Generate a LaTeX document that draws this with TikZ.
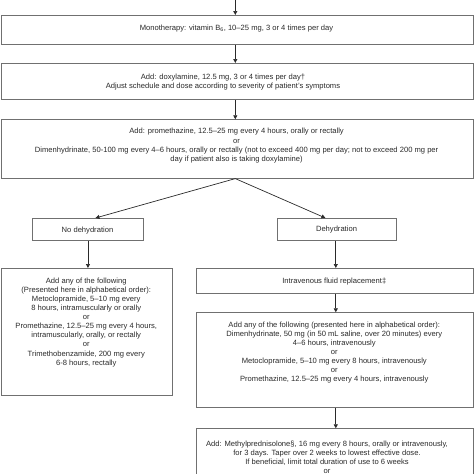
\documentclass[tikz,border=0pt]{standalone}
\usepackage{fontspec}
\setmainfont{Liberation Sans}
\usetikzlibrary{arrows.meta}
\definecolor{boxline}{HTML}{707070}
\definecolor{txtc}{HTML}{2A2A2A}
\definecolor{arrc}{HTML}{2A2A2A}
\begin{document}
\begin{tikzpicture}[x=1pt,y=-1pt,
  box/.style={draw=boxline, line width=0.9pt, inner sep=0pt, anchor=north west, fill=white},
  txt/.style={font=\fontsize{7.6}{9.1}\selectfont, text=txtc, align=center, inner sep=0pt},
  arr/.style={draw=arrc, line width=0.7pt, -{Triangle[length=4pt,width=4pt]}}]
\useasboundingbox (0,0) rectangle (474,474);
\clip (0,0) rectangle (474,474);
% boxes
\node[box, minimum width=472.2pt, minimum height=28.7pt] (mono) at (0.5,15) {};
\node[box, minimum width=472.2pt, minimum height=36.3pt] (doxy) at (0.5,63) {};
\node[box, minimum width=472.2pt, minimum height=58.4pt] (prom) at (0.5,119.3) {};
\node[box, minimum width=111pt, minimum height=22pt] (nodeh) at (32,218) {};
\node[box, minimum width=119pt, minimum height=22pt] (dehy) at (277,218) {};
\node[box, minimum width=171.5pt, minimum height=127pt] (left) at (0.5,268) {};
\node[box, minimum width=276.7pt, minimum height=24.7pt] (iv) at (196,268) {};
\node[box, minimum width=276.7pt, minimum height=94.4pt] (addiv) at (196,312.3) {};
\node[box, minimum width=276.7pt, minimum height=80pt] (meth) at (196,428.3) {};
% texts
\node[txt] (tmono) at (236.5,28.8) {Monotherapy: vitamin B\textsubscript{6}, 10–25 mg, 3 or 4 times per day};
\node[txt, anchor=north] (tdoxy) at (223,73.3) {Add: doxylamine, 12.5 mg, 3 or 4 times per day†\\Adjust schedule and dose according to severity of patient’s symptoms};
\node[txt, anchor=north] (tprom) at (236.6,128.2) {Add: promethazine, 12.5–25 mg every 4 hours, orally or rectally\\or\\Dimenhydrinate, 50-100 mg every 4–6 hours, orally or rectally (not to exceed 400 mg per day; not to exceed 200 mg per\\day if patient also is taking doxylamine)};
\node[txt] (tnodeh) at (87.5,231) {No dehydration};
\node[txt] (tdehy) at (336.5,229.5) {Dehydration};
\node[txt, anchor=north] (tleft) at (86.25,277.5) {Add any of the following\\(Presented here in alphabetical order):\\Metoclopramide, 5–10 mg every\\8 hours, intramuscularly or orally\\or\\Promethazine, 12.5–25 mg every 4 hours,\\intramuscularly, orally, or rectally\\or\\Trimethobenzamide, 200 mg every\\6-8 hours, rectally};
\node[txt] (tiv) at (334.3,281.5) {Intravenous fluid replacement‡};
\node[txt, anchor=north] (taddiv) at (334.3,321.5) {Add any of the following (presented here in alphabetical order):\\Dimenhydrinate, 50 mg (in 50 mL saline, over 20 minutes) every\\4–6 hours, intravenously\\or\\Metoclopramide, 5–10 mg every 8 hours, intravenously\\or\\Promethazine, 12.5–25 mg every 4 hours, intravenously};
\node[txt, anchor=north] (tmeth) at (327,440.8) {Add: Methylprednisolone§, 16 mg every 8 hours, orally or intravenously,\\for 3 days. Taper over 2 weeks to lowest effective dose.\\If beneficial, limit total duration of use to 6 weeks\\or};
% connectors
\coordinate (top) at (235.3,0);
\coordinate (rx) at (335.8,0);
\draw[arr] (top) -- (top |- mono.north);
\draw[arr] (top |- mono.south) -- (top |- doxy.north);
\draw[arr] (top |- doxy.south) -- (top |- prom.north);
\draw[arr] (top |- prom.south) -- ([xshift=7.5pt]nodeh.north);
\draw[arr] (top |- prom.south) -- ([xshift=-11.5pt]dehy.north);
\draw[arr] (nodeh.south) -- (nodeh.south |- left.north);
\draw[arr] (rx |- dehy.south) -- (rx |- iv.north);
\draw[arr] (rx |- iv.south) -- (rx |- addiv.north);
\draw[arr] (rx |- addiv.south) -- (rx |- meth.north);
\end{tikzpicture}
\end{document}
